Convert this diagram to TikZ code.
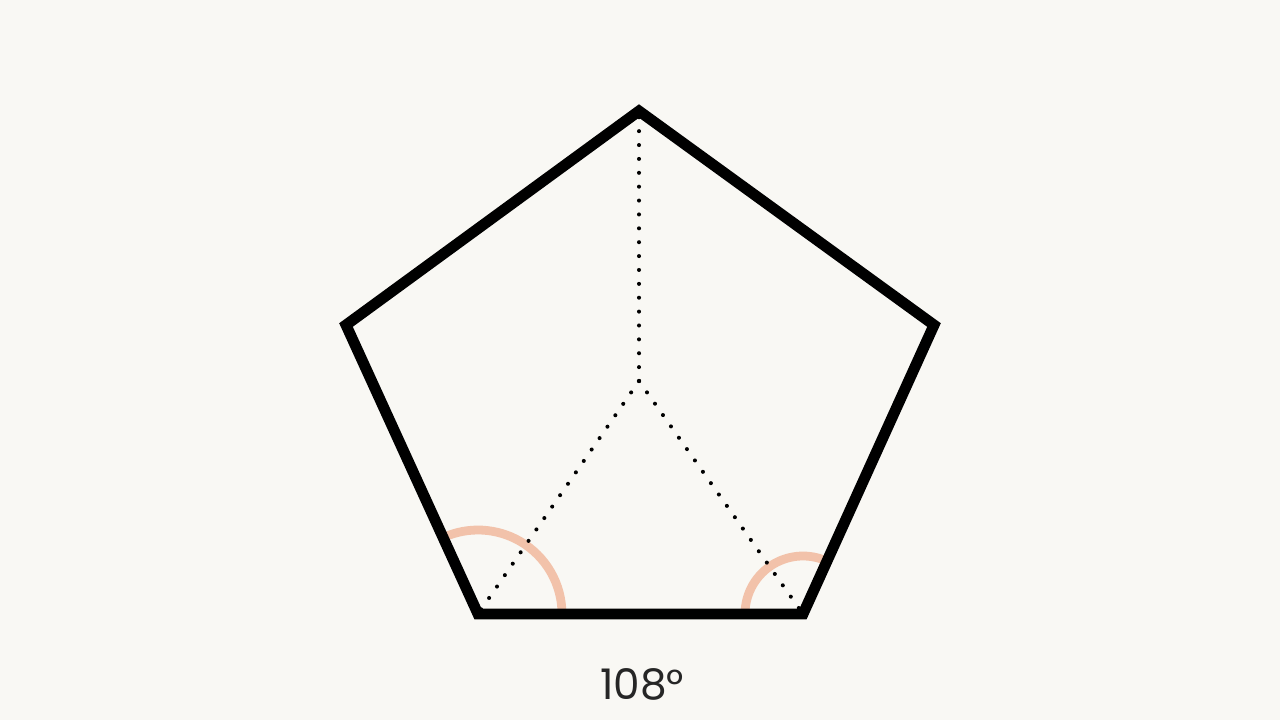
\documentclass[tikz,border=0pt]{standalone}
\usepackage{fontspec}
\setmainfont{Poppins}
\usepackage{tikz}
\usetikzlibrary{positioning}
\definecolor{paper}{HTML}{F9F8F4}
\definecolor{peach}{HTML}{F2C2AA}
\definecolor{ink}{HTML}{262626}
\tikzstyle{side} = [line width=6.2pt, line join=miter, draw=black]
\tikzstyle{guide} = [line width=2.3pt, line cap=round, dash pattern=on 0pt off 7.9pt, draw=black]
\tikzstyle{anglearc} = [line width=5pt, draw=peach]
\tikzstyle{label} = [text=ink, font=\fontsize{24}{29}\selectfont]
\begin{document}
\begin{tikzpicture}[x=0.02cm, y=-0.02cm]

        % Background
        \fill[paper] (0,0) rectangle (1280,720);
        \useasboundingbox (0,0) rectangle (1280,720);

        % Corners
        \coordinate (top) at (639,111);
        \coordinate (right) at (934,325);
        \coordinate (botright) at (803,614);
        \coordinate (botleft) at (478,614);
        \coordinate (left) at (346,325);
        \coordinate (centre) at (639,381);

        % Angle marks
        \draw [anglearc] ([xshift=84*0.02cm]botleft) arc[start angle=0, end angle=114, radius=84*0.02cm];
        \draw [anglearc] ([xshift=-58*0.02cm]botright) arc[start angle=180, end angle=66, radius=58*0.02cm];

        % Dotted lines
        \draw [guide] (centre) -- (top);
        \draw [guide] (centre) -- (botleft);
        \draw [guide] (centre) -- (botright);

        % Pentagon
        \draw [side] (top) -- (right) -- (botright) -- (botleft) -- (left) -- cycle;

        % Label
        \node (angle) [label] at (642,684) {108°};

    \end{tikzpicture}
\end{document}
